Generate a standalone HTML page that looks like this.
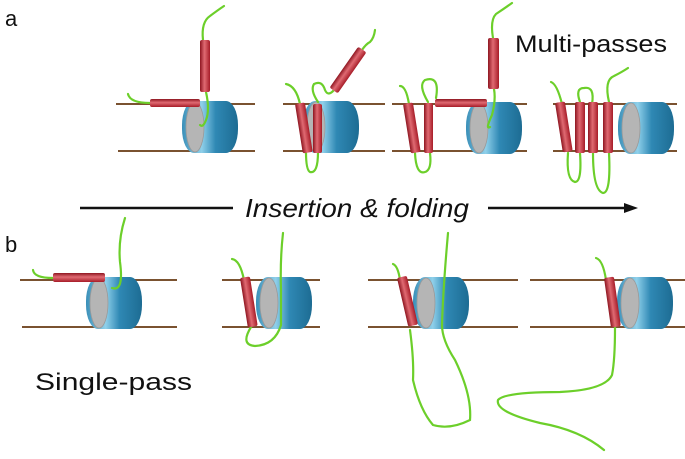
<!DOCTYPE html>
<html><head><meta charset="utf-8"><style>
html,body{margin:0;padding:0;background:#fff;}
svg{display:block;}
text{font-family:"Liberation Sans","DejaVu Sans",sans-serif;fill:#111;}
</style></head><body>
<svg width="685" height="459" viewBox="0 0 685 459" xmlns="http://www.w3.org/2000/svg">
<defs>
<linearGradient id="bl" x1="0" x2="1" y1="0" y2="0">
<stop offset="0" stop-color="#3a8fb8"/><stop offset="0.35" stop-color="#8fd0ea"/><stop offset="0.6" stop-color="#2f88b4"/><stop offset="1" stop-color="#1d6c93"/></linearGradient>
<linearGradient id="rv" x1="0" x2="1" y1="0" y2="0">
<stop offset="0" stop-color="#8e1520"/><stop offset="0.45" stop-color="#e06a72"/><stop offset="1" stop-color="#a71c28"/></linearGradient>
<linearGradient id="rh" x1="0" x2="0" y1="0" y2="1">
<stop offset="0" stop-color="#8e1520"/><stop offset="0.45" stop-color="#e06a72"/><stop offset="1" stop-color="#a71c28"/></linearGradient>
<g id="tr">
<rect x="0" y="0" width="56" height="52" rx="12" ry="24" fill="url(#bl)"/>
<ellipse cx="13" cy="26" rx="9" ry="25" fill="#b5b5b5" stroke="#9a9a9a" stroke-width="0.8"/>
</g>
<rect id="hv" x="0" y="0" width="10" height="50" rx="2" fill="url(#rv)"/>
</defs>
<g stroke="#7a5230" stroke-width="2">
<line x1="116" y1="104" x2="255" y2="104"/><line x1="118" y1="151" x2="255" y2="151"/>
<line x1="283" y1="104" x2="385" y2="104"/><line x1="283" y1="151" x2="385" y2="151"/>
<line x1="392" y1="104" x2="527" y2="104"/><line x1="392" y1="151" x2="527" y2="151"/>
<line x1="553" y1="104" x2="677" y2="104"/><line x1="553" y1="151" x2="677" y2="151"/>
<line x1="20" y1="280" x2="177" y2="280"/><line x1="22" y1="327" x2="177" y2="327"/>
<line x1="222" y1="280" x2="320" y2="280"/><line x1="222" y1="327" x2="320" y2="327"/>
<line x1="368" y1="280" x2="518" y2="280"/><line x1="368" y1="327" x2="518" y2="327"/>
<line x1="530" y1="280" x2="685" y2="280"/><line x1="530" y1="327" x2="685" y2="327"/>
</g>
<use href="#tr" x="182" y="101"/>
<use href="#tr" x="303" y="101"/>
<use href="#tr" x="466" y="102"/>
<use href="#tr" x="618" y="102"/>
<use href="#tr" x="86" y="277"/>
<use href="#tr" x="256" y="277"/>
<use href="#tr" x="413" y="277"/>
<use href="#tr" x="617" y="277"/>
<g fill="none" stroke="#6ccf2a" stroke-width="2.2" stroke-linecap="round">
<path d="M128 94 Q130 103 150 103"/>
<path d="M206 92 Q210 110 206 120 Q203 128 200 125"/>
<path d="M203 40 Q201 22 210 16 Q218 10 224 6"/>
<path d="M286 84 Q296 86 300 104"/><path d="M306 152 Q306 170 310 172 Q318 174 318 152"/>
<path d="M318 102 Q310 90 314 84 Q322 80 325 90 Q328 97 334 90"/>
<path d="M362 50 Q366 44 370 42 Q374 38 375 30"/>
<path d="M400 86 Q406 86 409 104"/><path d="M415 153 Q416 175 425 172 Q432 170 430 153"/>
<path d="M428 102 Q418 85 425 80 Q440 75 436 98"/>
<path d="M494 89 Q496 100 492 115 Q485 130 490 127"/>
<path d="M493 38 Q490 20 496 14 Q505 8 512 3"/>
<path d="M551 82 Q557 84 562 104"/><path d="M568 153 Q566 180 575 182 Q582 182 580 153"/>
<path d="M580 102 Q575 88 584 88 Q595 86 592 104"/>
<path d="M593 153 Q593 190 603 193 Q611 193 609 153"/>
<path d="M609 102 Q604 80 614 76 Q622 72 628 68"/>
<path d="M33 270 Q34 278 53 278"/>
<path d="M125 218 Q118 240 120 262 Q124 292 112 288"/>
<path d="M232 259 Q240 260 244 280"/>
<path d="M251 327 Q240 345 255 346 Q275 345 281 325 Q281 300 281 290 Q280 260 283 233"/>
<path d="M393 264 Q398 266 400 280"/>
<path d="M410 330 Q414 360 413 380 Q420 410 433 425 Q450 430 470 420 Q472 395 455 360 Q442 340 442 325 Q443 290 448 233"/>
<path d="M596 258 Q603 260 606 280"/>
<path d="M615 328 Q615 360 612 375 Q605 390 560 392 Q505 392 498 400 Q495 412 540 423 Q580 430 604 450"/>
</g>
<rect x="150" y="99" width="50" height="8" rx="2" fill="url(#rh)"/>
<rect x="200" y="40" width="10" height="52" rx="2" fill="url(#rv)"/>
<use href="#hv" x="0" y="0" transform="translate(295,104) rotate(-9)"/>
<rect x="313" y="104" width="9" height="49" rx="2" fill="url(#rv)"/>
<rect x="343" y="45" width="10" height="50" rx="2" fill="url(#rv)" transform="rotate(35 348 70)"/>
<use href="#hv" x="0" y="0" transform="translate(403,104) rotate(-9)"/>
<rect x="424" y="103" width="9" height="50" rx="2" fill="url(#rv)"/>
<rect x="435" y="99" width="52" height="8" rx="2" fill="url(#rh)"/>
<rect x="488" y="38" width="11" height="51" rx="2" fill="url(#rv)"/>
<use href="#hv" x="0" y="0" transform="translate(555,103) rotate(-9)"/>
<rect x="575" y="102" width="10" height="51" rx="2" fill="url(#rv)"/>
<rect x="588" y="102" width="10" height="51" rx="2" fill="url(#rv)"/>
<rect x="603" y="102" width="10" height="51" rx="2" fill="url(#rv)"/>
<rect x="53" y="273" width="52" height="9" rx="2" fill="url(#rh)"/>
<use href="#hv" x="0" y="0" transform="translate(240,278) rotate(-9)"/>
<use href="#hv" x="0" y="0" transform="translate(397,278) rotate(-13)"/>
<use href="#hv" x="0" y="0" transform="translate(604,278) rotate(-8)"/>
<line x1="80" y1="208" x2="233" y2="208" stroke="#111" stroke-width="2.5"/>
<line x1="488" y1="208" x2="628" y2="208" stroke="#111" stroke-width="2.5"/>
<polygon points="638,208 624,203 624,213" fill="#111"/>
<text x="357" y="217" font-size="26" font-style="italic" text-anchor="middle" textLength="224" lengthAdjust="spacingAndGlyphs">Insertion &amp; folding</text>
<text x="5" y="26" font-size="22">a</text>
<text x="5" y="252" font-size="22">b</text>
<text x="515" y="52" font-size="24" textLength="152" lengthAdjust="spacingAndGlyphs">Multi-passes</text>
<text x="35" y="390" font-size="24" textLength="157" lengthAdjust="spacingAndGlyphs">Single-pass</text>
</svg>
</body></html>
